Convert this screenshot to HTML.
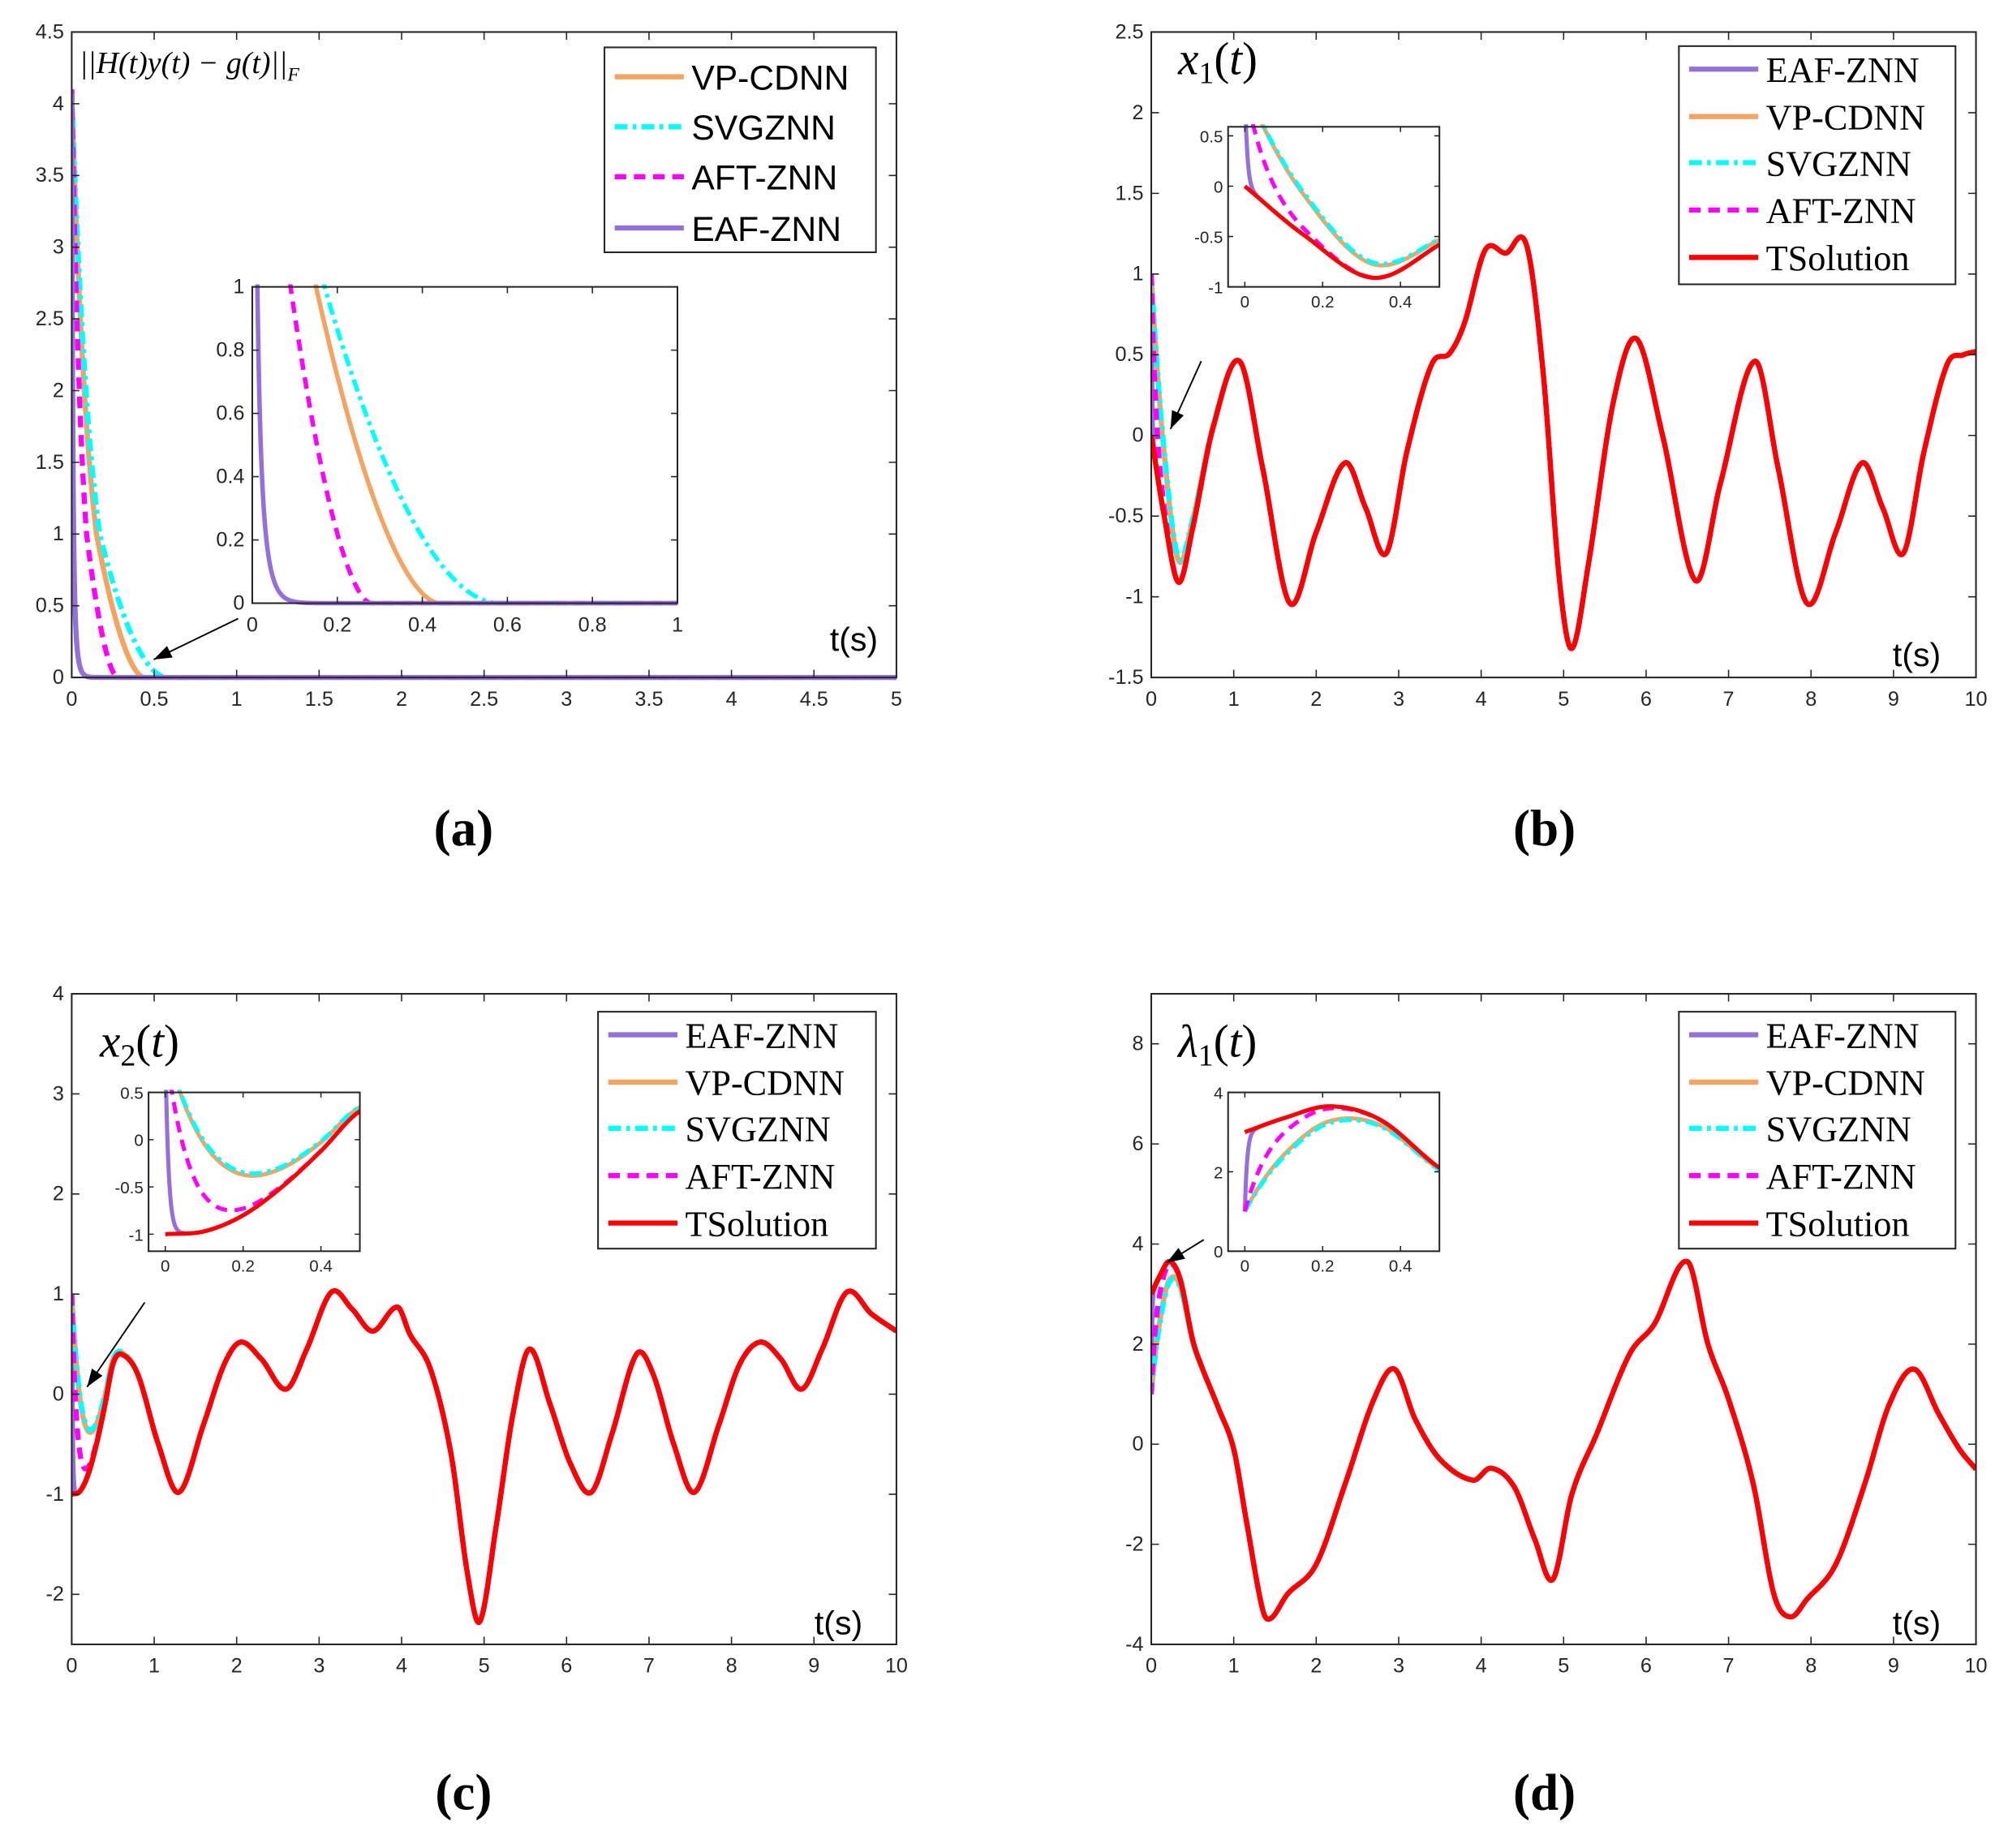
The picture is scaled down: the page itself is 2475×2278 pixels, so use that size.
<!DOCTYPE html>
<html><head><meta charset="utf-8">
<style>
html,body{margin:0;padding:0;background:#fff;}
svg{display:block;}
.tk{font-family:"Liberation Sans",sans-serif;font-size:16px;fill:#262626;}
.tki{font-family:"Liberation Sans",sans-serif;font-size:13px;fill:#262626;}
.lgs{font-family:"Liberation Sans",sans-serif;font-size:27px;fill:#000;}
.lgr{font-family:"Liberation Serif",serif;font-size:28px;fill:#000;}
.cap{font-family:"Liberation Serif",serif;font-size:40px;font-weight:bold;fill:#000;}
.ts{font-family:"Liberation Sans",sans-serif;font-size:26px;fill:#000;}
.mt{font-family:"Liberation Serif",serif;font-style:italic;fill:#000;}
</style></head>
<body>
<svg id="s" width="2475" height="2278" viewBox="0 0 1568 1443" preserveAspectRatio="none" xmlns="http://www.w3.org/2000/svg">
<defs></defs>
</svg>
<script>
const S=document.getElementById('s');const NS='http://www.w3.org/2000/svg';
let clipId=0;
function el(tag,attrs,parent,text){if(typeof parent==='string'||typeof parent==='number'){text=String(parent);parent=null;}
 const e=document.createElementNS(NS,tag);for(const k in attrs)e.setAttribute(k,attrs[k]);if(text!==undefined)e.textContent=text;(parent||S).appendChild(e);return e;}
const C={o:'#F4A460',c:'#00FFFF',m:'#FF00FF',p:'#9370DB',r:'#FF0000'};
const ST={o:'',c:'10,4,3,4',m:'9,6',p:'',r:''};
function interp(pts){return t=>{const n=pts.length;if(t<=pts[0][0])return pts[0][1];if(t>=pts[n-1][0])return pts[n-1][1];
let i=0;while(i<n-2&&t>pts[i+1][0])i++;
const [t0,v0]=pts[i],[t1,v1]=pts[i+1];
const m=k=>{if(k<=0)return (pts[1][1]-pts[0][1])/(pts[1][0]-pts[0][0]);if(k>=n-1)return (pts[n-1][1]-pts[n-2][1])/(pts[n-1][0]-pts[n-2][0]);return (pts[k+1][1]-pts[k-1][1])/(pts[k+1][0]-pts[k-1][0]);};
const h=t1-t0,s=(t-t0)/h,m0=m(i)*h,m1=m(i+1)*h;
const h00=2*s*s*s-3*s*s+1,h10=s*s*s-2*s*s+s,h01=-2*s*s*s+3*s*s,h11=s*s*s-s*s;
return h00*v0+h10*m0+h01*v1+h11*m1;};}
function axes(ax){
 ax.X=t=>ax.x0+(t-ax.xmin)/(ax.xmax-ax.xmin)*(ax.x1-ax.x0);
 ax.Y=v=>ax.y1-(v-ax.ymin)/(ax.ymax-ax.ymin)*(ax.y1-ax.y0);
 el('rect',{x:ax.x0,y:ax.y0,width:ax.x1-ax.x0,height:ax.y1-ax.y0,fill:'#fff',stroke:'none'});
 const id='c'+(clipId++);const cp=el('clipPath',{id:id},S.querySelector('defs'));el('rect',{x:ax.x0,y:ax.y0-2,width:ax.x1-ax.x0,height:ax.y1-ax.y0+4},cp);
 ax.g=el('g',{'clip-path':'url(#'+id+')'});
 return ax;}
function frame(ax){const tl=ax.tl||6;let d='';
 ax.xt.forEach((t,i)=>{const x=ax.X(t);d+=`M${x},${ax.y1}v${-tl}M${x},${ax.y0}v${tl}`;el('text',{x:x,y:ax.y1+(ax.cls=='tki'?16:22),'text-anchor':'middle',class:ax.cls},ax.xl[i]);});
 ax.yt.forEach((v,i)=>{const y=ax.Y(v);d+=`M${ax.x0},${y}h${tl}M${ax.x1},${y}h${-tl}`;el('text',{x:ax.x0-(ax.cls=='tki'?4:6),y:y+5,'text-anchor':'end',class:ax.cls},ax.yl[i]);});
 el('path',{d:d,stroke:'#262626','stroke-width':1,fill:'none'});
 el('rect',{x:ax.x0,y:ax.y0,width:ax.x1-ax.x0,height:ax.y1-ax.y0,fill:'none',stroke:'#262626','stroke-width':1.3});}
function plot(ax,f,col,a,b,N,w){let d='';for(let i=0;i<=N;i++){const t=a+(b-a)*i/N;let v=f(t);const y=ax.Y(v);d+=(i?'L':'M')+ax.X(t).toFixed(2)+','+Math.max(-50,Math.min(2000,y)).toFixed(2);}
 const at={d:d,stroke:C[col],'stroke-width':w||4,fill:'none','stroke-linejoin':'round'};if(ST[col])at['stroke-dasharray']=ST[col];el('path',at,ax.g);}
function legend(x0,y0,x1,y1,rows,items,cls){el('rect',{x:x0,y:y0,width:x1-x0,height:y1-y0,fill:'#fff',stroke:'#262626','stroke-width':1.3});
 items.forEach((it,i)=>{const y=rows[i];const at={x1:x0+8,x2:x0+62,y1:y,y2:y,stroke:C[it[0]],'stroke-width':4};if(ST[it[0]])at['stroke-dasharray']=ST[it[0]];el('line',at);el('text',{x:x0+68,y:y+10,class:cls},it[1]);});}
function arrow(x1,y1,x2,y2){el('line',{x1:x1,y1:y1,x2:x2,y2:y2,stroke:'#000','stroke-width':1.2});
 const a=Math.atan2(y2-y1,x2-x1),L=14,W=5;const bx=x2-L*Math.cos(a),by=y2-L*Math.sin(a);
 el('polygon',{points:`${x2},${y2} ${bx+W*Math.sin(a)},${by-W*Math.cos(a)} ${bx-W*Math.sin(a)},${by+W*Math.cos(a)}`,fill:'#000'});}
const rng=(a,b,s)=>{const r=[];for(let v=a;v<=b+1e-9;v+=s)r.push(+v.toFixed(4));return r;};
const fmt=v=>(''+v);

// ========== Panel a ==========
function pw(t1,T,q,A){return t=>{if(t<t1)return A*Math.pow(1/A,t/t1);if(t<T)return Math.pow((T-t)/(T-t1),q);return 0;};}
const fa={m:pw(0.09,0.28,1.75,4.1),o:pw(0.15,0.44,1.75,4.1),c:pw(0.17,0.58,1.9,4.1),p:t=>4.1*Math.exp(-t/0.006)*0.7+1.2*Math.exp(-t/0.018)};
let A=axes({x0:56,x1:700,y0:25,y1:529,xmin:0,xmax:5,ymin:0,ymax:4.5});
['o','c','m','p'].forEach(k=>plot(A,fa[k],k,0,5,4000));
A.xt=rng(0,5,0.5);A.xl=A.xt.map(fmt);A.yt=rng(0,4.5,0.5);A.yl=A.yt.map(fmt);A.cls='tk';frame(A);
legend(472,37,684,197,[60,99,138,178],[['o','VP-CDNN'],['c','SVGZNN'],['m','AFT-ZNN'],['p','EAF-ZNN']],'lgs');
let Ai=axes({x0:197,x1:529,y0:224,y1:471,xmin:0,xmax:1,ymin:0,ymax:1});
['o','c','m','p'].forEach(k=>plot(Ai,fa[k],k,0,1,2000,3.5));
Ai.xt=rng(0,1,0.2);Ai.xl=Ai.xt.map(fmt);Ai.yt=rng(0,1,0.2);Ai.yl=Ai.yt.map(fmt);Ai.cls='tk';Ai.tl=5;frame(Ai);
arrow(186,483,120,515);
{const t=el('text',{x:62,y:57,class:'mt','font-size':24});
 el('tspan',{},t,'||H(t)y(t) − g(t)||');el('tspan',{'font-size':15,dy:6},t,'F');}
el('text',{x:648,y:508,class:'ts'},'t(s)');
el('text',{x:362,y:660,'text-anchor':'middle',class:'cap'},'(a)');

function panel(o){
 const red=interp(o.pts);const d0=o.y0net-red(0);
 const f={r:red};
 for(const k in o.tau){const tau=o.tau[k];f[k]=t=>red(t)+d0*Math.exp(-t/tau);}
 const M=axes(o.main);
 ['p','o','c','m','r'].forEach(k=>plot(M,f[k],k,0,10,4000));
 M.cls='tk';frame(M);
 legend(o.lg[0],o.lg[1],o.lg[2],o.lg[3],o.rows,[['p','EAF-ZNN'],['o','VP-CDNN'],['c','SVGZNN'],['m','AFT-ZNN'],['r','TSolution']],'lgr');
 const I=axes(o.ins);
 ['p','o','c','m','r'].forEach(k=>plot(I,f[k],k,0,0.5,1500,3.2));
 I.cls='tki';I.tl=4;frame(I);
 arrow(...o.arrow);
 const t=el('text',{x:o.title[0],y:o.title[1],class:'mt','font-size':36});
 el('tspan',{},t,o.title[2]);
 el('tspan',{'font-size':24,'font-style':'normal',dy:7},t,o.title[4]);
 el('tspan',{'font-style':'normal',dy:-7},t,'(');
 el('tspan',{},t,'t');
 el('tspan',{'font-style':'normal'},t,')');
 el('text',{x:o.ts[0],y:o.ts[1],class:'ts'},'t(s)');
 el('text',{x:o.cap[0],y:o.cap[1],'text-anchor':'middle',class:'cap'},o.cap[2]);
}
const bpts=[[0,0],[0.15,-0.48],[0.33,-0.91],[0.5,-0.58],[0.75,0.05],[1.07,0.46],[1.35,-0.2],[1.68,-1.04],[2.0,-0.6],[2.35,-0.17],[2.6,-0.45],[2.85,-0.73],[3.1,-0.1],[3.4,0.44],[3.62,0.51],[3.8,0.7],[4.05,1.15],[4.3,1.13],[4.55,1.18],[4.75,0.4],[4.95,-0.9],[5.1,-1.32],[5.3,-0.8],[5.6,0.2],[5.88,0.6],[6.2,0.0],[6.6,-0.9],[6.9,-0.3],[7.32,0.46],[7.6,-0.2],[7.95,-1.04],[8.3,-0.6],[8.62,-0.17],[8.87,-0.45],[9.12,-0.73],[9.37,-0.1],[9.65,0.44],[9.85,0.5],[10,0.52]];
panel({pts:bpts,y0net:1,tau:{o:0.165,c:0.175,m:0.055,p:0.006},
 main:{x0:899,x1:1543,y0:25,y1:529,xmin:0,xmax:10,ymin:-1.5,ymax:2.5,xt:rng(0,10,1),xl:rng(0,10,1).map(String),yt:rng(-1.5,2.5,0.5),yl:rng(-1.5,2.5,0.5).map(fmt)},
 ins:{x0:959,x1:1124,y0:99,y1:224,xmin:-0.043,xmax:0.5,ymin:-1,ymax:0.59,xt:[0,0.2,0.4],xl:['0','0.2','0.4'],yt:[-1,-0.5,0,0.5],yl:['-1','-0.5','0','0.5']},
 lg:[1311,36,1527,222],rows:[54,91,127,164,201],arrow:[938,282,914,335],title:[920,58,'x',20,'1'],ts:[1478,520],cap:[1206,660,'(b)']});
const cpts=[[0,-1],[0.1,-0.97],[0.2,-0.8],[0.3,-0.5],[0.4,-0.12],[0.5,0.3],[0.6,0.4],[0.8,0.2],[1.05,-0.5],[1.3,-0.98],[1.6,-0.3],[1.85,0.3],[2.05,0.52],[2.3,0.35],[2.6,0.05],[2.85,0.45],[3.15,1.02],[3.4,0.85],[3.65,0.63],[3.95,0.87],[4.1,0.6],[4.35,0.25],[4.6,-0.6],[4.8,-1.8],[4.95,-2.27],[5.15,-1.3],[5.35,-0.2],[5.55,0.45],[5.8,-0.1],[6.05,-0.7],[6.3,-0.98],[6.55,-0.4],[6.85,0.4],[7.05,0.2],[7.3,-0.5],[7.55,-0.98],[7.85,-0.3],[8.1,0.3],[8.35,0.52],[8.6,0.35],[8.85,0.05],[9.1,0.45],[9.4,1.02],[9.7,0.8],[10,0.63]];
panel({pts:cpts,y0net:1,tau:{o:0.13,c:0.135,m:0.06,p:0.008},
 main:{x0:56,x1:700,y0:776,y1:1284,xmin:0,xmax:10,ymin:-2.5,ymax:4,xt:rng(0,10,1),xl:rng(0,10,1).map(String),yt:rng(-2,4,1),yl:rng(-2,4,1).map(String)},
 ins:{x0:116,x1:281,y0:853,y1:977,xmin:-0.043,xmax:0.5,ymin:-1.18,ymax:0.5,xt:[0,0.2,0.4],xl:['0','0.2','0.4'],yt:[-1,-0.5,0,0.5],yl:['-1','-0.5','0','0.5']},
 lg:[467,790,684,975],rows:[808,845,881,918,955],arrow:[113,1017,68,1083],title:[78,825,'x',20,'2'],ts:[636,1276],cap:[362,1413,'(c)']});
const dpts=[[0,3.0],[0.1,3.35],[0.22,3.65],[0.35,3.3],[0.5,2.1],[0.6,1.6],[0.82,0.7],[1.0,-0.1],[1.15,-1.5],[1.35,-3.3],[1.45,-3.48],[1.65,-3.0],[2.0,-2.4],[2.35,-0.8],[2.7,0.9],[2.95,1.5],[3.2,0.5],[3.5,-0.3],[3.9,-0.72],[4.12,-0.48],[4.4,-0.85],[4.65,-1.9],[4.87,-2.7],[5.1,-1.0],[5.4,0.2],[5.8,1.8],[6.1,2.4],[6.5,3.65],[6.75,2.0],[7.0,0.9],[7.3,-0.8],[7.55,-3.0],[7.75,-3.45],[7.95,-3.1],[8.3,-2.4],[8.65,-0.8],[8.95,0.8],[9.25,1.5],[9.55,0.6],[9.8,-0.1],[10,-0.5]];
panel({pts:dpts,y0net:1,tau:{o:0.13,c:0.14,m:0.06,p:0.006},
 main:{x0:899,x1:1543,y0:776,y1:1284,xmin:0,xmax:10,ymin:-4,ymax:9,xt:rng(0,10,1),xl:rng(0,10,1).map(String),yt:rng(-4,8,2),yl:rng(-4,8,2).map(String)},
 ins:{x0:959,x1:1124,y0:853,y1:977,xmin:-0.043,xmax:0.5,ymin:0,ymax:4,xt:[0,0.2,0.4],xl:['0','0.2','0.4'],yt:[0,2,4],yl:['0','2','4']},
 lg:[1311,790,1527,975],rows:[808,845,881,918,955],arrow:[940,968,911,986],title:[920,825,'λ',20,'1'],ts:[1478,1276],cap:[1206,1413,'(d)']});
</script>
</body></html>
